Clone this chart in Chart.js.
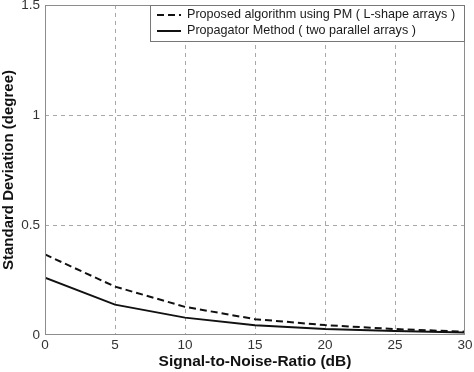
<!DOCTYPE html>
<html>
<head>
<meta charset="utf-8">
<script src="https://cdn.jsdelivr.net/npm/chart.js@4"></script>
<style>
  html, body { margin: 0; padding: 0; background: #fff; }
  #wrap { width: 474px; height: 372px; position: relative; }
</style>
</head>
<body>
<div id="wrap"><canvas id="sdChart"></canvas></div>
<script>
const snr = [0, 5, 10, 15, 20, 25, 30];
const proposedPM = [0.366, 0.220, 0.128, 0.072, 0.045, 0.027, 0.015];
const propagator = [0.260, 0.138, 0.079, 0.044, 0.027, 0.018, 0.011];
const seriesLabels = [
    "Proposed algorithm using PM ( L-shape arrays )",
    "Propagator Method ( two parallel arrays )"
];

const FONT = "'Liberation Sans', Arial, sans-serif";

// box round the plot + legend box inside top right
const framePlugin = {
    id: "frame",
    afterDraw(chart) {
        const { ctx, chartArea: a } = chart;
        ctx.save();
        ctx.strokeStyle = "#8c8c8c";
        ctx.lineWidth = 1;
        ctx.setLineDash([]);
        ctx.strokeRect(a.left + 0.5, a.top + 0.5, a.right - a.left - 1, a.bottom - a.top - 1);

        // legend
        const x0 = 150, y0 = a.top, w = a.right - x0 - 1, h = 36;
        ctx.fillStyle = "#fff";
        ctx.fillRect(x0, y0, w, h);
        ctx.strokeStyle = "#777";
        ctx.strokeRect(x0 + 0.5, y0 + 0.5, w, h);
        ctx.font = "12.6px " + FONT;
        ctx.fillStyle = "#1a1a1a";
        ctx.textBaseline = "middle";
        const rows = [y0 + 10, y0 + 26];
        chart.data.datasets.forEach((ds, i) => {
            ctx.beginPath();
            ctx.strokeStyle = "#111";
            ctx.lineWidth = 2;
            ctx.setLineDash(ds.borderDash || []);
            ctx.moveTo(x0 + 7, rows[i]);
            ctx.lineTo(x0 + 31, rows[i]);
            ctx.stroke();
            ctx.setLineDash([]);
            ctx.fillText(ds.label, x0 + 37, rows[i]);
        });
        ctx.restore();
    }
};

const hideEdges = (ctx) => {
    const t = ctx.tick ? ctx.tick.value : null;
    const s = ctx.scale;
    if (t === s.min || t === s.max) return "rgba(0,0,0,0)";
    return "#a8a8a8";
};

new Chart(document.getElementById("sdChart"), {
    type: "line",
    data: {
        labels: snr,
        datasets: [{
            label: seriesLabels[0],
            data: snr.map((x, i) => ({ x: x, y: proposedPM[i] })),
            borderColor: "#111",
            borderWidth: 2,
            borderDash: [7, 4],
            pointRadius: 0,
            tension: 0
        }, {
            label: seriesLabels[1],
            data: snr.map((x, i) => ({ x: x, y: propagator[i] })),
            borderColor: "#111",
            borderWidth: 2,
            pointRadius: 0,
            tension: 0
        }]
    },
    options: {
        responsive: true,
        maintainAspectRatio: false,
        animation: false,
        layout: { autoPadding: false, padding: { top: 5, right: 9, left: 0, bottom: 0 } },
        plugins: {
            legend: { display: false },
            tooltip: { enabled: false }
        },
        scales: {
            x: {
                type: "linear",
                min: 0,
                max: 30,
                ticks: {
                    stepSize: 5,
                    color: "#333",
                    font: { family: FONT, size: 13.5 },
                    padding: 2,
                    maxRotation: 0
                },
                grid: { color: hideEdges, drawTicks: false, lineWidth: 1 },
                border: { display: false, dash: [4, 4] },
                title: {
                    display: true,
                    text: "Signal-to-Noise-Ratio (dB)",
                    color: "#111",
                    font: { family: FONT, size: 15.5, weight: "bold" },
                    padding: { top: 0, bottom: 1 }
                },
                afterFit(scale) { scale.height = 37; scale.paddingLeft = 0; scale.paddingRight = 0; }
            },
            y: {
                min: 0,
                max: 1.5,
                ticks: {
                    stepSize: 0.5,
                    color: "#333",
                    font: { family: FONT, size: 13.5 },
                    padding: 5,
                    callback: (v) => String(v)
                },
                grid: { color: hideEdges, drawTicks: false, lineWidth: 1 },
                border: { display: false, dash: [4, 4] },
                title: {
                    display: true,
                    text: "Standard Deviation (degree)",
                    color: "#111",
                    font: { family: FONT, size: 15, weight: "bold" },
                    padding: { top: 0, bottom: 0 }
                },
                afterFit(scale) { scale.width = 45; scale.paddingTop = 0; scale.paddingBottom = 0; }
            }
        }
    },
    plugins: [framePlugin]
});
</script>
</body>
</html>
